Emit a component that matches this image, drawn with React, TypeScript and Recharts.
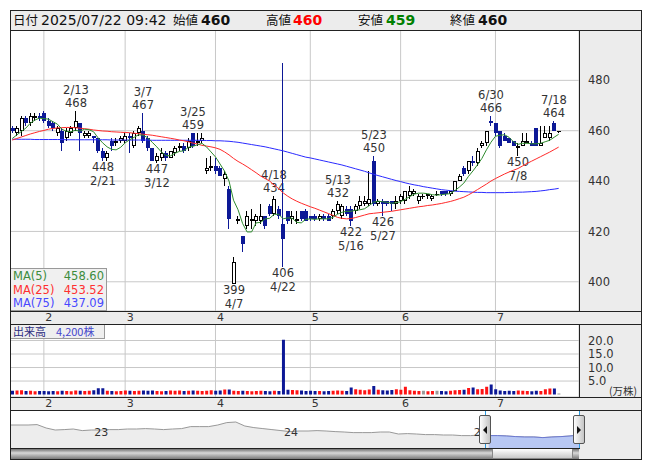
import React from "react";
import {
  ComposedChart,
  AreaChart,
  Area,
  Bar,
  Line,
  Cell,
  XAxis,
  YAxis,
  CartesianGrid,
} from "recharts";

const LATIN = "'DejaVu Sans', 'Noto Sans CJK JP', sans-serif";
const JP = "'Noto Sans CJK JP', 'DejaVu Sans', sans-serif";
const NAVY = "#0c1896";
const LINE = "#222";

// trading days shown (Jan 23 .. Jul 22, 2025)
const dates = [
  "1/23","1/24","1/27","1/28","1/29","1/30","1/31",
  "2/3","2/4","2/5","2/6","2/7","2/10","2/12","2/13","2/14","2/17","2/18","2/19","2/20","2/21","2/25","2/26","2/27","2/28",
  "3/3","3/4","3/5","3/6","3/7","3/10","3/11","3/12","3/13","3/14","3/17","3/18","3/19","3/21","3/24","3/25","3/26","3/27","3/28","3/31",
  "4/1","4/2","4/3","4/4","4/7","4/8","4/9","4/10","4/11","4/14","4/15","4/16","4/17","4/18","4/21","4/22","4/23","4/24","4/25","4/28","4/30",
  "5/1","5/2","5/7","5/8","5/9","5/12","5/13","5/14","5/15","5/16","5/19","5/20","5/21","5/22","5/23","5/26","5/27","5/28","5/29","5/30",
  "6/2","6/3","6/4","6/5","6/6","6/9","6/10","6/11","6/12","6/13","6/16","6/17","6/18","6/19","6/20","6/23","6/24","6/25","6/26","6/27","6/30",
  "7/1","7/2","7/3","7/4","7/7","7/8","7/9","7/10","7/11","7/14","7/15","7/16","7/17","7/18","7/22",
];

const opens = [
  461,459,460,465,463,465,466,
  467,464,463,459,460,457,459,461,463,458,458,458,457,452,449,456,455,456,
  456,458,454,459,460,457,453,448,449,451,449,451,453,454,453,459,455,456,444,445,
  446,445,441,437,399,424,418,422,424,424,424,426,430,427,429,423,428,425,424,428,428,
  426,426,425,426,426,426,428,426,429,429,428,430,431,431,448,431,432,432,432,431,
  432,432,434,435,432,434,434,433,435,436,436,435,436,440,445,444,448,447,454,455,464,
  463,460,458,457,456,453,454,455,455,461,454,457,457,463,460,
];
const highs = [
  462,462,466,466,467,467,467,
  468,465,464,462,461,461,462,468,463,460,460,458,457,453,452,457,457,458,
  459,459,460,462,467,458,453,451,453,452,452,454,455,455,457,459,459,459,449,450,
  449,446,444,438,410,426,418,428,429,427,431,426,431,434,430,487,428,428,428,428,429,
  426,427,427,427,427,429,432,431,430,430,431,434,434,444,450,433,433,432,432,434,
  435,436,438,437,435,435,435,435,436,436,436,436,440,443,446,448,450,453,456,460,466,
  463,460,459,457,456,455,459,459,456,461,462,462,462,464,460,
];
const lows = [
  459,458,458,462,462,464,464,
  463,461,460,458,452,456,458,460,452,457,457,455,451,448,448,452,454,455,
  455,451,453,458,455,452,448,447,448,448,449,450,452,451,452,453,454,455,443,444,
  443,442,438,421,399,423,412,421,421,422,423,421,426,426,425,406,423,423,423,424,424,
  424,424,424,424,424,425,427,425,426,422,427,429,430,430,430,430,426,430,428,429,
  431,431,433,434,431,433,433,432,434,434,434,434,436,440,442,443,446,446,453,454,462,
  458,453,456,455,454,450,454,455,454,454,454,457,456,460,459,
];
const closes = [
  460,461,465,463,466,466,465,
  464,462,461,461,455,460,461,464,459,459,459,457,452,449,451,454,456,457,
  458,457,459,461,456,453,448,450,451,449,452,453,454,452,456,454,456,457,445,446,
  444,442,443,425,408,425,415,426,425,426,426,422,427,433,426,417,424,426,425,425,424,
  425,425,426,425,424,428,431,430,427,424,430,432,432,433,431,432,431,431,431,432,
  434,436,436,436,434,434,435,434,435,435,435,436,440,442,443,448,447,452,455,460,463,
  459,454,456,455,454,454,456,456,454,454,455,459,459,460,460,
];

// moving averages
const ma5 = [
  456.9,458.3,459.7,461.0,463.0,464.2,465.0,
  464.8,464.6,463.6,462.6,460.6,459.8,459.6,460.2,459.8,460.6,460.4,459.6,457.2,455.2,453.6,452.6,452.4,453.4,
  455.2,456.4,457.4,458.4,458.2,457.2,455.4,453.6,451.6,450.2,450.0,451.0,451.8,452.0,453.4,453.8,454.4,455.0,453.6,451.6,
  449.6,446.8,444.0,440.0,432.4,428.6,423.2,419.8,419.8,423.4,423.6,425.0,425.2,426.8,426.8,425.0,425.4,425.2,423.6,423.4,424.8,
  425.0,424.8,425.0,425.0,425.0,425.6,426.8,427.6,428.0,428.0,428.4,428.6,429.0,430.2,431.6,432.0,431.8,431.6,431.2,431.4,
  431.8,432.8,433.8,434.8,435.2,435.2,435.0,434.6,434.4,434.6,434.8,435.0,436.2,437.6,439.2,441.8,444.0,446.4,449.0,452.4,455.4,
  457.8,458.2,458.4,457.4,455.6,454.6,455.0,455.0,454.8,454.8,455.0,455.6,456.2,457.4,458.6,
];
const ma25 = [
  456.3,456.9,457.5,458.1,458.7,459.2,459.7,
  460.1,460.6,460.9,461.1,461.2,461.3,461.3,461.2,461.0,460.8,460.6,460.3,460.1,459.9,459.8,459.6,459.5,459.4,
  459.3,459.2,459.0,458.8,458.6,458.4,458.2,457.9,457.6,457.3,457.0,456.7,456.3,456.0,455.6,455.1,454.7,454.2,453.9,453.6,
  453.2,452.6,451.6,450.4,449.0,447.8,446.8,445.7,444.5,443.3,442.0,441.0,440.0,438.4,437.0,435.3,434.0,432.9,432.0,431.2,430.5,
  429.8,429.2,428.5,427.8,427.1,426.4,425.6,425.2,425.0,425.1,425.5,426.0,426.5,427.0,427.2,427.4,427.6,427.8,428.0,428.3,
  428.6,428.9,429.2,429.5,429.8,430.0,430.3,430.5,430.8,431.1,431.5,431.9,432.4,433.0,433.6,434.5,435.5,436.6,437.7,438.8,440.0,
  441.0,441.9,442.8,443.6,444.3,445.0,446.0,447.0,447.9,448.8,449.7,450.6,451.5,452.5,453.5,
];
const ma75 = [
  456.6,456.6,456.6,456.6,456.6,456.5,456.5,
  456.5,456.5,456.5,456.5,456.5,456.4,456.4,456.4,456.4,456.4,456.4,456.4,456.4,456.4,456.4,456.3,456.3,456.3,
  456.3,456.3,456.3,456.3,456.3,456.3,456.2,456.2,456.2,456.2,456.2,456.2,456.2,456.2,456.2,456.2,456.2,456.2,456.1,456.1,
  456.0,456.0,455.9,455.8,455.6,455.4,455.1,454.8,454.5,454.2,453.9,453.6,453.2,452.8,452.4,452.0,451.5,451.0,450.5,450.0,449.5,
  449.2,448.8,448.4,448.0,447.6,447.2,446.8,446.4,445.9,445.4,444.9,444.4,443.9,443.3,442.7,442.2,441.7,441.2,440.7,440.2,
  439.8,439.3,438.9,438.5,438.2,437.8,437.5,437.2,436.9,436.6,436.4,436.2,436.0,435.9,435.8,435.7,435.6,435.5,435.5,435.4,435.4,
  435.4,435.4,435.4,435.5,435.5,435.6,435.6,435.7,435.8,435.9,436.1,436.3,436.6,436.8,437.1,
];

// volume, 万株
const volumes = [
  1.4,1.5,1.6,1.3,1.4,1.2,1.3,
  1.3,1.2,1.3,1.2,1.4,1.3,1.2,1.5,1.4,1.3,1.4,1.6,2.3,2.3,1.4,1.3,1.2,1.3,
  1.5,1.4,1.3,1.4,1.5,1.4,1.5,1.3,1.2,1.3,1.5,1.4,1.5,1.3,1.4,1.5,1.4,1.3,1.4,1.6,
  1.4,1.5,1.9,1.9,1.4,1.3,1.4,1.3,1.2,1.3,1.4,1.3,1.2,1.4,1.3,20.3,1.8,1.7,1.6,1.5,1.3,
  1.4,1.3,1.3,1.2,1.3,1.4,1.5,1.4,1.3,2.6,2.0,1.8,1.6,1.9,3.2,1.8,1.6,1.5,1.7,2.0,
  1.8,2.9,1.6,1.4,1.3,1.4,1.2,1.3,1.4,1.3,1.2,1.4,1.6,1.7,1.8,2.4,2.6,2.0,2.1,2.9,3.7,
  2.0,1.5,1.3,1.4,1.3,1.5,1.4,1.3,1.2,1.4,1.3,2.0,2.2,2.2,0.42,
];

const hiMarks = ["2/13", "3/7", "3/25", "4/18", "5/13", "5/23", "6/30", "7/18"];
const loMarks = ["2/21", "3/12", "4/7", "4/22", "5/16", "5/27", "7/8"];
const monthTicks = ["2/3", "3/3", "4/1", "5/1", "6/2", "7/1"];
const padDays = ["p1", "p2", "p3", "p4"];

// long-term navigator line (approx. price)
const navValues = [
  505,505,505,507,490,480,482,485,477,480,480,482,482,485,485,487,
  485,482,485,487,497,497,497,505,517,520,500,492,487,482,477,472,
  475,475,477,475,472,470,467,467,467,470,470,460,462,460,457,457,
  455,455,452,452,455,452,452,450,447,445,445,442,445,447,450,455,
];
const navYears = [
  { k: 10, label: "23" },
  { k: 31, label: "24" },
  { k: 52, label: "25" },
];
const NAV_SEL = 53;

const P_MIN = 388.4;
const P_MAX = 500;

const rows: any[] = [
  ...dates.map((d, i) => ({
    d,
    o: opens[i],
    h: highs[i],
    l: lows[i],
    c: closes[i],
    m5: ma5[i],
    m25: ma25[i],
    m75: ma75[i],
    v: volumes[i],
    mk: hiMarks.includes(d) ? "hi" : loMarks.includes(d) ? "lo" : null,
  })),
  ...padDays.map((d) => ({ d })),
];

const navRows = navValues.map((v, k) => ({ k, v, s: k >= NAV_SEL ? v : null }));

const Candle = (props: any) => {
  const { x, y, width, height, payload } = props;
  if (!payload || payload.h == null || !height) return <g />;
  const ppu = height / (payload.h - P_MIN);
  const py = (v: number) => y + (payload.h - v) * ppu;
  const left = Math.round(x + width / 2 - 2);
  const wx = left + 1.5;
  const up = payload.c > payload.o;
  const flat = payload.c === payload.o;
  const col = up || flat ? "#000" : NAVY;
  const top = Math.round(py(Math.max(payload.o, payload.c)));
  const bot = Math.round(py(Math.min(payload.o, payload.c)));
  const yh = Math.round(py(payload.h));
  const yl = Math.round(py(payload.l));
  const cx = left + 2;
  const txt = { fontFamily: LATIN, fontSize: 11.5, fill: "#333", textAnchor: "middle" as const };
  return (
    <g>
      <line x1={wx} x2={wx} y1={yh} y2={yl} stroke={col} strokeWidth={1} />
      {flat ? (
        <line x1={left} x2={left + 4} y1={top + 0.5} y2={top + 0.5} stroke="#000" />
      ) : up ? (
        <rect x={left + 0.5} y={top + 0.5} width={3} height={Math.max(bot - top - 1, 1)} fill="#fff" stroke="#000" />
      ) : (
        <rect x={left} y={top} width={4} height={Math.max(bot - top, 1)} fill={NAVY} />
      )}
      {payload.mk === "hi" && (
        <>
          <text x={cx} y={yh - 17.5} {...txt}>{payload.d}</text>
          <text x={cx} y={yh - 4} {...txt}>{payload.h}</text>
        </>
      )}
      {payload.mk === "lo" && (
        <>
          <text x={cx} y={yl + 10} {...txt}>{payload.l}</text>
          <text x={cx} y={yl + 23.5} {...txt}>{payload.d}</text>
        </>
      )}
    </g>
  );
};

const MonthTick = (props: any) => {
  const { x, y, payload } = props;
  return (
    <text x={x + 5} y={y} dy="0.71em" textAnchor="middle" fontFamily={LATIN} fontSize={11} fill="#333">
      {String(payload.value).split("/")[0]}
    </text>
  );
};

const volColor = (r: any) =>
  r.c == null ? "#999" : r.c > r.o ? "#ff1414" : r.c < r.o ? NAVY : "#9a9a9a";

const abs = (left: number, top: number, width: number, height: number, extra: any = {}) => ({
  position: "absolute" as const,
  left,
  top,
  width,
  height,
  ...extra,
});

const HLine = ({ x, y, w }: { x: number; y: number; w: number }) => (
  <div style={abs(x, y, w, 1, { background: LINE })} />
);
const VLine = ({ x, y, h, c = LINE }: { x: number; y: number; h: number; c?: string }) => (
  <div style={abs(x, y, 1, h, { background: c })} />
);

const Handle = ({ x, dir }: { x: number; dir: "l" | "r" }) => (
  <div
    style={abs(x, 415, 12, 29, {
      boxSizing: "border-box",
      border: "1px solid #555",
      borderRadius: 2,
      background: "linear-gradient(to right, #fdfdfd, #c4c4c4)",
    })}
  >
    <div
      style={{
        position: "absolute",
        left: 3,
        top: 10,
        width: 0,
        height: 0,
        borderTop: "4px solid transparent",
        borderBottom: "4px solid transparent",
        ...(dir === "l" ? { borderRight: "4px solid #111" } : { borderLeft: "4px solid #111" }),
      }}
    />
  </div>
);

export default function App() {
  const hdr = (left: number, text: string, style: any = {}) => (
    <div style={abs(left, 11, 80, 18, { lineHeight: "18px", whiteSpace: "nowrap", ...style })}>{text}</div>
  );
  const jp = { fontFamily: JP, fontSize: 12.5, color: "#111" };
  const num = { fontFamily: LATIN, fontSize: 14, color: "#111" };
  const bold = { fontFamily: LATIN, fontSize: 14, fontWeight: 700, color: "#111" };

  return (
    <div style={abs(0, 0, 653, 470, { background: "#fff", fontFamily: LATIN })}>
      {/* frame background */}
      <div style={abs(10, 10, 632, 450, { background: "#ececec" })} />

      {/* header */}
      {hdr(13, "日付", jp)}
      {hdr(41, "2025/07/22 09:42", num)}
      {hdr(173, "始値", jp)}
      {hdr(201, "460", bold)}
      {hdr(266, "高値", jp)}
      {hdr(293, "460", { ...bold, color: "#ff0000" })}
      {hdr(358, "安値", jp)}
      {hdr(386, "459", { ...bold, color: "#008000" })}
      {hdr(450, "終値", jp)}
      {hdr(478, "460", bold)}

      {/* price panel */}
      <div style={abs(10, 30, 631, 294)}>
        <ComposedChart width={631} height={294} data={rows} margin={{ top: 0, right: 0, bottom: 0, left: 0 }} barCategoryGap={0}>
          <CartesianGrid stroke="#c8c8c8" fill="#fff" />
          <XAxis
            dataKey="d"
            ticks={monthTicks}
            interval={0}
            height={13}
            axisLine={false}
            tickLine={false}
            tickSize={0}
            tickMargin={2}
            tick={<MonthTick />}
          />
          <YAxis
            orientation="right"
            width={62}
            domain={[P_MIN, P_MAX]}
            allowDataOverflow
            ticks={[400, 420, 440, 460, 480]}
            interval={0}
            axisLine={false}
            tickLine={false}
            tickMargin={3}
            tick={{ fontSize: 11.5, fill: "#333", fontFamily: LATIN }}
          />
          <Bar
            dataKey={(r: any) => (r.h == null ? null : [P_MIN, r.h])}
            shape={(p: any) => <Candle {...p} />}
            isAnimationActive={false}
          />
          <Line dataKey="m75" stroke="#2a2aff" strokeWidth={1} dot={false} activeDot={false} isAnimationActive={false} />
          <Line dataKey="m25" stroke="#ff2a2a" strokeWidth={1} dot={false} activeDot={false} isAnimationActive={false} />
          <Line dataKey="m5" stroke="#2e8b2e" strokeWidth={1} dot={false} activeDot={false} isAnimationActive={false} />
        </ComposedChart>
      </div>

      {/* MA legend */}
      <div
        style={abs(10, 268, 97, 43, {
          boxSizing: "border-box",
          background: "#f0f0f0",
          border: "1px solid #999",
          fontFamily: LATIN,
          fontSize: 11.5,
          lineHeight: "13.5px",
          padding: "1px 2px 0 2px",
        })}
      >
        {[
          ["MA(5)", "458.60", "#3c8c3c"],
          ["MA(25)", "453.52", "#ff3030"],
          ["MA(75)", "437.09", "#4848ff"],
        ].map(([n, v, c]) => (
          <div key={n} style={{ display: "flex", justifyContent: "space-between", color: c }}>
            <span>{n}</span>
            <span>{v}</span>
          </div>
        ))}
      </div>

      {/* volume panel */}
      <div style={abs(10, 324, 631, 86)}>
        <ComposedChart width={631} height={86} data={rows} margin={{ top: 0, right: 0, bottom: 0, left: 0 }} barCategoryGap={0}>
          <CartesianGrid stroke="#c8c8c8" fill="#fff" />
          <XAxis
            dataKey="d"
            ticks={monthTicks}
            interval={0}
            height={13}
            axisLine={false}
            tickLine={false}
            tickSize={0}
            tickMargin={2}
            tick={<MonthTick />}
          />
          <YAxis
            orientation="right"
            width={62}
            domain={[-0.9, 26.1]}
            allowDataOverflow
            ticks={[5, 10, 15, 20]}
            interval={0}
            tickFormatter={(v: number) => v.toFixed(1)}
            axisLine={false}
            tickLine={false}
            tickMargin={3}
            tick={{ fontSize: 11.5, fill: "#333", fontFamily: LATIN }}
          />
          <Bar dataKey="v" barSize={3} isAnimationActive={false}>
            {rows.map((r, i) => (
              <Cell key={i} fill={volColor(r)} />
            ))}
          </Bar>
        </ComposedChart>
      </div>
      <div style={abs(609, 384, 32, 14, { fontFamily: JP, fontSize: 10.5, color: "#333", lineHeight: "14px" })}>(万株)</div>
      <div
        style={abs(10, 324, 95, 15, {
          boxSizing: "border-box",
          background: "#efefef",
          border: "1px solid #999",
          fontFamily: JP,
          fontSize: 11,
          lineHeight: "13px",
          paddingLeft: 2,
          whiteSpace: "nowrap",
        })}
      >
        <span style={{ color: "#2b2b80" }}>出来高</span>
        <span style={{ color: "#4646cc", marginLeft: 10 }}>4,200株</span>
      </div>

      {/* navigator */}
      <div style={abs(10, 411, 569, 37, { background: "#fff" })}>
        <AreaChart width={569} height={37} data={navRows} margin={{ top: 0, right: 0, bottom: 0, left: 0 }}>
          <XAxis dataKey="k" type="number" domain={[0, navValues.length - 1]} hide />
          <YAxis domain={[390, 575]} hide allowDataOverflow />
          <Area type="linear" dataKey="v" stroke="#999" strokeWidth={1} fill="#ededed" fillOpacity={1} isAnimationActive={false} dot={false} activeDot={false} />
          <Area type="linear" dataKey="s" stroke="#6b78d0" strokeWidth={1} fill="#b8c8f4" fillOpacity={1} isAnimationActive={false} dot={false} activeDot={false} />
        </AreaChart>
      </div>
      {navYears.map((y) => (
        <div
          key={y.label}
          style={abs(10 + (y.k * 569) / (navValues.length - 1) - 6, 427, 14, 12, {
            fontFamily: LATIN,
            fontSize: 11,
            color: "#333",
            lineHeight: "12px",
          })}
        >
          {y.label}
        </div>
      ))}
      <VLine x={485} y={410} h={39} c="#2a9ae0" />
      <VLine x={579} y={410} h={39} c="#2a9ae0" />
      <Handle x={479} dir="l" />
      <Handle x={573} dir="r" />

      {/* scrollbar */}
      <div style={abs(10, 448, 475, 11, { background: "linear-gradient(#585858, #d8d8d8 45%, #7a7a7a)" })} />
      <div style={abs(485, 448, 94, 11, { background: "linear-gradient(#585858, #d8d8d8 45%, #7a7a7a)" })} />
      <div
        style={abs(492, 448, 81, 11, {
          boxSizing: "border-box",
          border: "1px solid #888",
          background: "linear-gradient(#ffffff, #c8c8c8)",
        })}
      />

      {/* frame lines */}
      <HLine x={10} y={30} w={632} />
      <HLine x={10} y={311} w={632} />
      <HLine x={10} y={324} w={632} />
      <HLine x={10} y={397} w={632} />
      <HLine x={10} y={410} w={632} />
      <HLine x={10} y={448} w={570} />
      <VLine x={579} y={30} h={281} />
      <VLine x={579} y={324} h={73} />
      <div style={abs(10, 10, 632, 450, { boxSizing: "border-box", border: `1px solid ${LINE}` })} />
    </div>
  );
}
